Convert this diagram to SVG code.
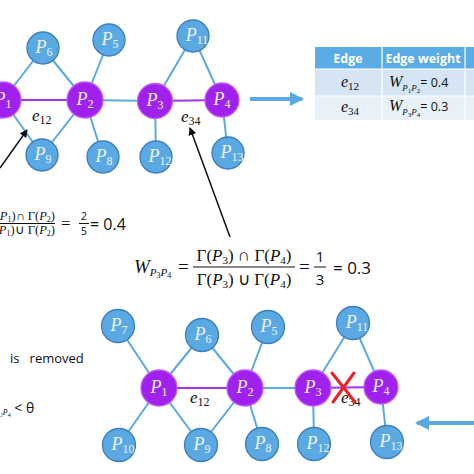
<svg xmlns="http://www.w3.org/2000/svg" width="474" height="474" viewBox="0 0 474 474">
<style>
.eb{stroke:#5aa9e2;stroke-width:2;fill:none}
.ep{stroke:#a334e6;stroke-width:2.2;fill:none}
.nb{fill:#5aa9e2;stroke:#3b7dbd;stroke-width:1.3}
.np{fill:#a020ec;stroke:#c25af4;stroke-width:1.3}
.lb{font-family:"Liberation Serif",serif;font-style:italic;font-size:18px;fill:#eef4ff}
.sub{font-size:12px;font-style:normal}
.m{font-family:"Liberation Serif",serif;fill:#111}
.s{font-family:"Open Sans","Liberation Sans",sans-serif;fill:#111}
.th{font-family:"Open Sans","Liberation Sans",sans-serif;font-weight:bold;font-size:12.5px;fill:#fff}
.ar{stroke:#111;stroke-width:1.5;fill:none}
.ba{stroke:#5aa9e2;stroke-width:4;fill:none}
</style>
<defs>
<marker id="ah" markerWidth="8" markerHeight="8" refX="7" refY="4" orient="auto" markerUnits="userSpaceOnUse"><path d="M0,0 L8,4 L0,8 Z" fill="#111"/></marker>
<marker id="bh" markerWidth="16" markerHeight="16" refX="12" refY="8" orient="auto" markerUnits="userSpaceOnUse"><path d="M0,1 L14,8 L0,15 Z" fill="#5aa9e2"/></marker>
</defs>

<g id="connectors">
<line class="eb" x1="3" y1="100" x2="43" y2="48"/>
<line class="eb" x1="43" y1="48" x2="85" y2="100"/>
<line class="eb" x1="3" y1="100" x2="42" y2="155"/>
<line class="eb" x1="42" y1="155" x2="85" y2="100"/>
<line class="eb" x1="85" y1="100" x2="109" y2="40"/>
<line class="eb" x1="85" y1="100" x2="103" y2="157"/>
<line class="eb" x1="85" y1="100" x2="155" y2="101"/>
<line class="eb" x1="155" y1="101" x2="193" y2="36"/>
<line class="eb" x1="193" y1="36" x2="222" y2="100"/>
<line class="eb" x1="155" y1="101" x2="156" y2="157"/>
<line class="eb" x1="222" y1="100" x2="228" y2="153"/>
<line class="ep" x1="3" y1="100" x2="85" y2="100"/>
<line class="ep" x1="155" y1="101" x2="222" y2="100"/>
<line class="eb" x1="118" y1="326" x2="159" y2="388"/>
<line class="eb" x1="119" y1="445" x2="159" y2="388"/>
<line class="eb" x1="202" y1="335" x2="159" y2="388"/>
<line class="eb" x1="202" y1="335" x2="245" y2="388"/>
<line class="eb" x1="201" y1="445" x2="159" y2="388"/>
<line class="eb" x1="201" y1="445" x2="245" y2="388"/>
<line class="eb" x1="268" y1="327" x2="245" y2="388"/>
<line class="eb" x1="262" y1="444" x2="245" y2="388"/>
<line class="eb" x1="245" y1="388" x2="313" y2="388"/>
<line class="eb" x1="313" y1="388" x2="353" y2="323"/>
<line class="eb" x1="353" y1="323" x2="381" y2="387"/>
<line class="eb" x1="313" y1="388" x2="314" y2="444"/>
<line class="eb" x1="381" y1="387" x2="387" y2="442"/>
<line class="ep" x1="159" y1="388" x2="245" y2="388"/>
<line class="ep" x1="313" y1="388" x2="381" y2="387"/>
<line class="ar" x1="0" y1="168" x2="27" y2="130" marker-end="url(#ah)"/>
<line class="ar" x1="230" y1="237" x2="190" y2="128" marker-end="url(#ah)"/>
<line class="ba" x1="250" y1="99" x2="302" y2="99" marker-end="url(#bh)"/>
<line class="ba" x1="474" y1="423" x2="417" y2="423" marker-end="url(#bh)"/>
</g>

<g id="t-P1"><circle class="np" cx="3" cy="100" r="18"/><text class="lb" x="3" y="105" text-anchor="middle">P<tspan class="sub" dy="3">1</tspan></text></g>
<g id="t-P2"><circle class="np" cx="85" cy="100" r="18"/><text class="lb" x="85" y="105" text-anchor="middle">P<tspan class="sub" dy="3">2</tspan></text></g>
<g id="t-P3"><circle class="np" cx="155" cy="101" r="17.5"/><text class="lb" x="155" y="106" text-anchor="middle">P<tspan class="sub" dy="3">3</tspan></text></g>
<g id="t-P4"><circle class="np" cx="222" cy="100" r="17"/><text class="lb" x="222" y="105" text-anchor="middle">P<tspan class="sub" dy="3">4</tspan></text></g>
<g id="t-P6"><circle class="nb" cx="43" cy="48" r="16"/><text class="lb" x="44" y="53" text-anchor="middle">P<tspan class="sub" dy="3">6</tspan></text></g>
<g id="t-P5"><circle class="nb" cx="109" cy="40" r="16"/><text class="lb" x="110" y="45" text-anchor="middle">P<tspan class="sub" dy="3">5</tspan></text></g>
<g id="t-P11"><circle class="nb" cx="193" cy="36" r="16"/><text class="lb" x="197" y="41" text-anchor="middle">P<tspan class="sub" dy="3">11</tspan></text></g>
<g id="t-P9"><circle class="nb" cx="42" cy="155" r="16"/><text class="lb" x="43" y="160" text-anchor="middle">P<tspan class="sub" dy="3">9</tspan></text></g>
<g id="t-P8"><circle class="nb" cx="103" cy="157" r="16"/><text class="lb" x="104" y="162" text-anchor="middle">P<tspan class="sub" dy="3">8</tspan></text></g>
<g id="t-P12"><circle class="nb" cx="156" cy="157" r="16"/><text class="lb" x="160" y="162" text-anchor="middle">P<tspan class="sub" dy="3">12</tspan></text></g>
<g id="t-P13"><circle class="nb" cx="228" cy="153" r="16"/><text class="lb" x="232" y="158" text-anchor="middle">P<tspan class="sub" dy="3">13</tspan></text></g>

<text class="m" x="32" y="121" font-size="17" font-style="italic">e<tspan font-size="12" font-style="normal" dy="3">12</tspan></text>
<text class="m" x="181" y="122" font-size="17" font-style="italic">e<tspan font-size="12" font-style="normal" dy="3">34</tspan></text>

<g id="table">
<rect x="315" y="47" width="159" height="22" fill="#5babe5"/>
<rect x="315" y="69" width="159" height="27" fill="#d5e5f4"/>
<rect x="315" y="96" width="159" height="24" fill="#e8f0f8"/>
<line x1="382" y1="47" x2="382" y2="120" stroke="#fff" stroke-width="1.2"/>
<line x1="465" y1="47" x2="465" y2="120" stroke="#fff" stroke-width="1.2"/>
<line x1="315" y1="69" x2="474" y2="69" stroke="#fff" stroke-width="1.2"/>
<line x1="315" y1="96" x2="474" y2="96" stroke="#fff" stroke-width="1.2"/>
<text class="th" x="348" y="63" text-anchor="middle">Edge</text>
<text class="th" x="423" y="63" text-anchor="middle">Edge weight</text>
<text class="m" x="341" y="87" font-size="16" font-style="italic">e<tspan font-size="11" font-style="normal" dy="3">12</tspan></text>
<text class="m" x="341" y="112" font-size="16" font-style="italic">e<tspan font-size="11" font-style="normal" dy="3">34</tspan></text>
<text class="m" x="389" y="87" font-size="16" font-style="italic">W<tspan font-size="9" dy="4">P</tspan><tspan font-size="7" font-style="normal" dy="2">1</tspan><tspan font-size="9" dy="-2">P</tspan><tspan font-size="7" font-style="normal" dy="2">2</tspan><tspan class="s" font-size="12.5" font-style="normal" dy="-6">= 0.4</tspan></text>
<text class="m" x="389" y="111" font-size="16" font-style="italic">W<tspan font-size="9" dy="4">P</tspan><tspan font-size="7" font-style="normal" dy="2">3</tspan><tspan font-size="9" dy="-2">P</tspan><tspan font-size="7" font-style="normal" dy="2">4</tspan><tspan class="s" font-size="12.5" font-style="normal" dy="-6">= 0.3</tspan></text>
</g>

<g id="formula1">
<text class="m" x="55" y="220" font-size="12.5" text-anchor="end">Γ(<tspan font-style="italic">P</tspan><tspan font-size="8" dy="2">1</tspan><tspan dy="-2">)∩ Γ(</tspan><tspan font-style="italic">P</tspan><tspan font-size="8" dy="2">2</tspan><tspan dy="-2">)</tspan></text>
<line x1="0" y1="223.5" x2="55" y2="223.5" stroke="#111" stroke-width="1"/>
<text class="m" x="55" y="234" font-size="12.5" text-anchor="end">Γ(<tspan font-style="italic">P</tspan><tspan font-size="8" dy="2">1</tspan><tspan dy="-2">)∪ Γ(</tspan><tspan font-style="italic">P</tspan><tspan font-size="8" dy="2">2</tspan><tspan dy="-2">)</tspan></text>
<text class="m" x="61" y="229" font-size="17">=</text>
<text class="s" x="84" y="220" font-size="11" text-anchor="middle">2</text>
<line x1="79" y1="223.5" x2="89" y2="223.5" stroke="#111" stroke-width="1"/>
<text class="s" x="84" y="235" font-size="11" text-anchor="middle">5</text>
<text class="s" x="90" y="230" font-size="16">= 0.4</text>
</g>

<g id="formula2">
<text class="m" x="134" y="273" font-size="19" font-style="italic">W<tspan font-size="11" dy="3">P</tspan><tspan font-size="8" font-style="normal" dy="2">3</tspan><tspan font-size="11" dy="-2">P</tspan><tspan font-size="8" font-style="normal" dy="2">4</tspan></text>
<text class="m" x="178" y="273" font-size="19">=</text>
<text class="m" x="244" y="261" font-size="17" text-anchor="middle">Γ(<tspan font-style="italic">P</tspan><tspan font-size="11" dy="3">3</tspan><tspan dy="-3">) ∩  Γ(</tspan><tspan font-style="italic">P</tspan><tspan font-size="11" dy="3">4</tspan><tspan dy="-3">)</tspan></text>
<line x1="193" y1="267" x2="295" y2="267" stroke="#111" stroke-width="1"/>
<text class="m" x="244" y="285" font-size="17" text-anchor="middle">Γ(<tspan font-style="italic">P</tspan><tspan font-size="11" dy="3">3</tspan><tspan dy="-3">) ∪  Γ(</tspan><tspan font-style="italic">P</tspan><tspan font-size="11" dy="3">4</tspan><tspan dy="-3">)</tspan></text>
<text class="m" x="299" y="273" font-size="19">=</text>
<text class="s" x="320" y="262" font-size="15" text-anchor="middle">1</text>
<line x1="314" y1="267" x2="326" y2="267" stroke="#111" stroke-width="1"/>
<text class="s" x="320" y="285" font-size="15" text-anchor="middle">3</text>
<text class="s" x="333" y="274" font-size="17">= 0.3</text>
</g>

<text class="s" x="10" y="363" font-size="13" xml:space="preserve">is   removed</text>
<text class="s" x="0" y="416" font-size="14"><tspan class="m" font-size="8" font-style="italic" dy="-1">₃P</tspan><tspan class="m" font-size="6" dy="2">4</tspan><tspan dy="-4"> &lt; θ</tspan></text>

<g id="b-P1"><circle class="np" cx="159" cy="388" r="18"/><text class="lb" x="159" y="393" text-anchor="middle">P<tspan class="sub" dy="3">1</tspan></text></g>
<g id="b-P2"><circle class="np" cx="245" cy="388" r="18"/><text class="lb" x="245" y="393" text-anchor="middle">P<tspan class="sub" dy="3">2</tspan></text></g>
<g id="b-P3"><circle class="np" cx="313" cy="388" r="18"/><text class="lb" x="313" y="393" text-anchor="middle">P<tspan class="sub" dy="3">3</tspan></text></g>
<g id="b-P4"><circle class="np" cx="381" cy="387" r="17"/><text class="lb" x="381" y="392" text-anchor="middle">P<tspan class="sub" dy="3">4</tspan></text></g>
<g id="b-P7"><circle class="nb" cx="118" cy="326" r="16.5"/><text class="lb" x="119" y="331" text-anchor="middle">P<tspan class="sub" dy="3">7</tspan></text></g>
<g id="b-P6"><circle class="nb" cx="202" cy="335" r="16.5"/><text class="lb" x="203" y="340" text-anchor="middle">P<tspan class="sub" dy="3">6</tspan></text></g>
<g id="b-P5"><circle class="nb" cx="268" cy="327" r="16.5"/><text class="lb" x="269" y="332" text-anchor="middle">P<tspan class="sub" dy="3">5</tspan></text></g>
<g id="b-P11"><circle class="nb" cx="353" cy="323" r="16.5"/><text class="lb" x="357" y="328" text-anchor="middle">P<tspan class="sub" dy="3">11</tspan></text></g>
<g id="b-P10"><circle class="nb" cx="119" cy="445" r="16.5"/><text class="lb" x="123" y="450" text-anchor="middle">P<tspan class="sub" dy="3">10</tspan></text></g>
<g id="b-P9"><circle class="nb" cx="201" cy="445" r="16.5"/><text class="lb" x="202" y="450" text-anchor="middle">P<tspan class="sub" dy="3">9</tspan></text></g>
<g id="b-P8"><circle class="nb" cx="262" cy="444" r="16.5"/><text class="lb" x="263" y="449" text-anchor="middle">P<tspan class="sub" dy="3">8</tspan></text></g>
<g id="b-P12"><circle class="nb" cx="314" cy="444" r="16.5"/><text class="lb" x="318" y="449" text-anchor="middle">P<tspan class="sub" dy="3">12</tspan></text></g>
<g id="b-P13"><circle class="nb" cx="387" cy="442" r="16.5"/><text class="lb" x="391" y="447" text-anchor="middle">P<tspan class="sub" dy="3">13</tspan></text></g>

<text class="m" x="190" y="403" font-size="17" font-style="italic">e<tspan font-size="12" font-style="normal" dy="3">12</tspan></text>
<text class="m" x="341" y="403" font-size="17" font-style="italic">e<tspan font-size="12" font-style="normal" dy="3">34</tspan></text>
<g id="cross" stroke="#e8212b" stroke-width="3" stroke-linecap="round">
<line x1="332" y1="373" x2="355" y2="402"/>
<line x1="354" y1="373" x2="333" y2="402"/>
</g>
</svg>
